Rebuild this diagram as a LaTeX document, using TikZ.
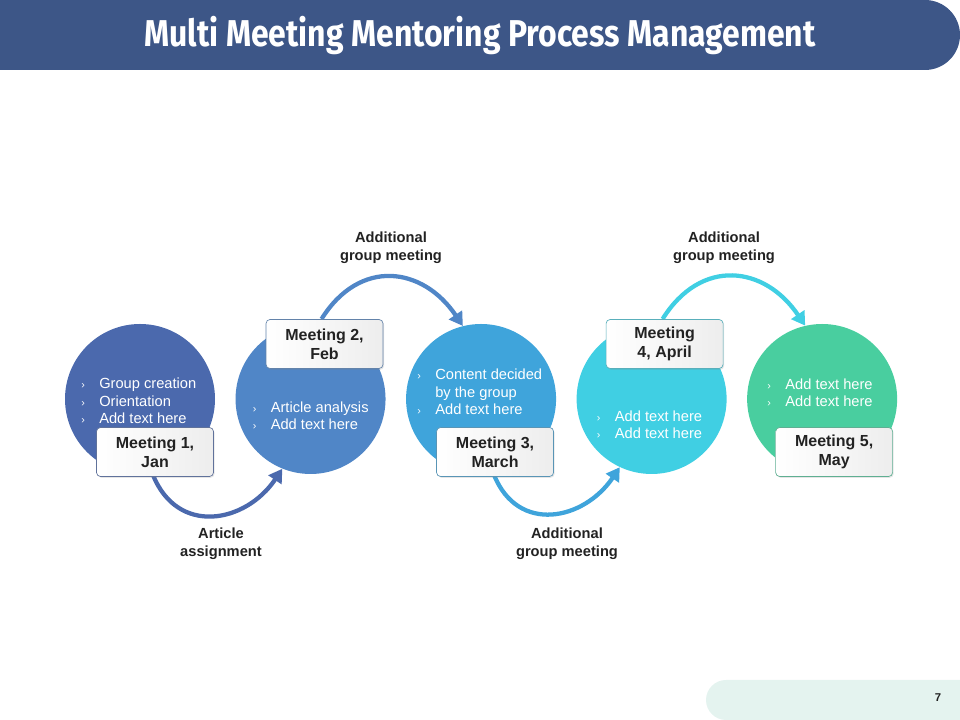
\documentclass[tikz,border=0pt]{standalone}
\usepackage{graphicx}
\usepackage{fontspec}
\setmainfont{Liberation Sans}
\newfontfamily\titlefont{Fira Sans}
\usetikzlibrary{arrows.meta,positioning,shadows}
\definecolor{navy}{HTML}{3D5687}
\definecolor{mblue}{HTML}{4B69AD}
\definecolor{sblue}{HTML}{5086C7}
\definecolor{cblue}{HTML}{3FA4DB}
\definecolor{aqua}{HTML}{40CFE3}
\definecolor{mint}{HTML}{49CE9F}
\definecolor{ink}{HTML}{222222}
\definecolor{footmint}{HTML}{E4F3EF}
\tikzset{
  meetcircle/.style={
    circle, fill=#1, minimum size=112.5pt, inner sep=0pt
  },
  meetbox/.style={
    rectangle, rounded corners=3pt, draw=#1!60!gray, line width=0.5pt,
    left color=white, right color=gray!14,
    minimum width=87.75pt, minimum height=36.75pt,
    font=\fontsize{12}{14}\selectfont\bfseries, text=ink, align=center,
    inner sep=2pt,
    drop shadow={opacity=0.2, shadow xshift=0.8pt, shadow yshift=-1pt}
  },
  pointtext/.style={
    font=\fontsize{11}{13.1}\selectfont, text=white, align=left,
    inner sep=0pt, anchor=west
  },
  steparrow/.style={
    -{Triangle[length=10pt,width=11.5pt]}, line width=3.2pt, color=#1
  },
  arrowlabel/.style={
    font=\fontsize{11}{13.5}\selectfont\bfseries, text=ink, align=center
  },
}
\newcommand{\pointmark}{\makebox[13.5pt][l]{\footnotesize ›}}

\begin{document}
\begin{tikzpicture}[x=0.75pt, y=0.75pt]
  \useasboundingbox (0,0) rectangle (960,720);

  % ── Title bar ───────────────
  \fill[navy] (0,650) -- (925,650) arc[start angle=-90, end angle=90, radius=35]
    -- (0,720) -- cycle;
  \node[text=white] (title) at (480,684)
    {\titlefont\bfseries\fontsize{28}{30}\selectfont
     \scalebox{0.855}[1]{Multi Meeting Mentoring Process Management}};

  % ── Meetings ────────────────
  \node[meetcircle=mblue] (c1) at (140,321) {};
  \node[meetcircle=sblue, right=15pt of c1] (c2) {};
  \node[meetcircle=cblue, right=15pt of c2] (c3) {};
  \node[meetcircle=aqua, right=15pt of c3] (c4) {};
  \node[meetcircle=mint, right=15pt of c4] (c5) {};

  \node[pointtext] (t1) at ([shift={(-59,-2)}]c1.center)
    {\pointmark Group creation\\\pointmark Orientation\\\pointmark Add text here};
  \node[pointtext] (t2) at ([shift={(-58,-17)}]c2.center)
    {\pointmark Article analysis\\\pointmark Add text here};
  \node[pointtext] (t3) at ([shift={(-64,7)}]c3.center)
    {\pointmark Content decided\\\hspace*{13.5pt}by the group\\\pointmark Add text here};
  \node[pointtext] (t4) at ([shift={(-55,-26)}]c4.center)
    {\pointmark Add text here\\\pointmark Add text here};
  \node[pointtext] (t5) at ([shift={(-55,6)}]c5.center)
    {\pointmark Add text here\\\pointmark Add text here};

  % ── Connectors ──────────────
  \coordinate (m1s) at ([shift={(13,-76)}]c1.center);
  \coordinate (m2n) at ([shift={(11,80)}]c2.center);
  \coordinate (m3s) at ([shift={(13,-76)}]c3.center);
  \coordinate (m4n) at ([shift={(11,80)}]c4.center);
  \draw[steparrow=mblue] (m1s) to[out=-68, in=-124, looseness=1.3] (c2.-112);
  \draw[steparrow=sblue] (m2n) to[out=58, in=124, looseness=1.3] (c3.104);
  \draw[steparrow=cblue] (m3s) to[out=-68, in=-124, looseness=1.3] (c4.-115);
  \draw[steparrow=aqua] (m4n) to[out=58, in=124, looseness=1.3] (c5.103);

  \node[meetbox=mblue] (m1) at ([shift={(15,-53)}]c1.center) {Meeting 1,\\Jan};
  \node[meetbox=sblue] (m2) at ([shift={(14,55)}]c2.center) {Meeting 2,\\Feb};
  \node[meetbox=cblue] (m3) at ([shift={(14,-53)}]c3.center) {Meeting 3,\\March};
  \node[meetbox=aqua] (m4) at ([shift={(13,55)}]c4.center) {Meeting\\4, April};
  \node[meetbox=mint] (m5) at ([shift={(12,-53)}]c5.center) {Meeting 5,\\May};

  \node[arrowlabel] (l1) at (221,176) {Article\\assignment};
  \node[arrowlabel] (l2) at (391,472) {Additional\\group meeting};
  \node[arrowlabel] (l3) at (567,176) {Additional\\group meeting};
  \node[arrowlabel] (l4) at (724,472) {Additional\\group meeting};

  % ── Footer ──────────────────
  \fill[footmint] (960,0) -- (726,0) arc[start angle=-90, end angle=-270, radius=20]
    -- (960,40) -- cycle;
  \node[font=\fontsize{8.5}{10}\selectfont\bfseries, text=ink] (page) at (938,22) {7};
\end{tikzpicture}
\end{document}
